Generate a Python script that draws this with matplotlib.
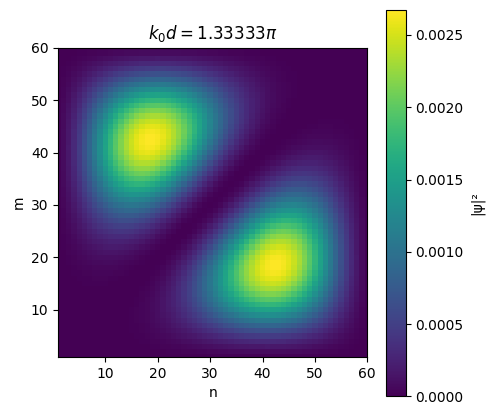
import numpy as np
import matplotlib
matplotlib.use("Agg")
import matplotlib.pyplot as plt

# grid sites
n = np.arange(1, 61)
m = np.arange(1, 61)
L = 61
peak_value = 0.00267
title = r"$k_0d = 1.33333\pi$"

N, M = np.meshgrid(n, m)
psi = (np.sin(np.pi*N/L)*np.sin(2*np.pi*M/L)
       - np.sin(2*np.pi*N/L)*np.sin(np.pi*M/L))
prob = psi**2
prob = prob/prob.max()*peak_value

fig = plt.figure(figsize=(4.93, 4.13), dpi=100)
ax = fig.add_axes([0.118, 0.135, 0.627, 0.75])
pc = ax.pcolormesh(n, m, prob, cmap="viridis", shading="nearest")
ax.set_xlim(1, 60); ax.set_ylim(1, 60)
ax.set_aspect("equal")
ax.set_xticks([10, 20, 30, 40, 50, 60]); ax.set_yticks([10, 20, 30, 40, 50, 60])
ax.set_xlabel("n"); ax.set_ylabel("m")
ax.set_title(title)
cax = fig.add_axes([0.783, 0.04, 0.04, 0.935])
cb = fig.colorbar(pc, cax=cax)
cb.set_label("|ψ|²")
fig.savefig("out.png", dpi=100)
